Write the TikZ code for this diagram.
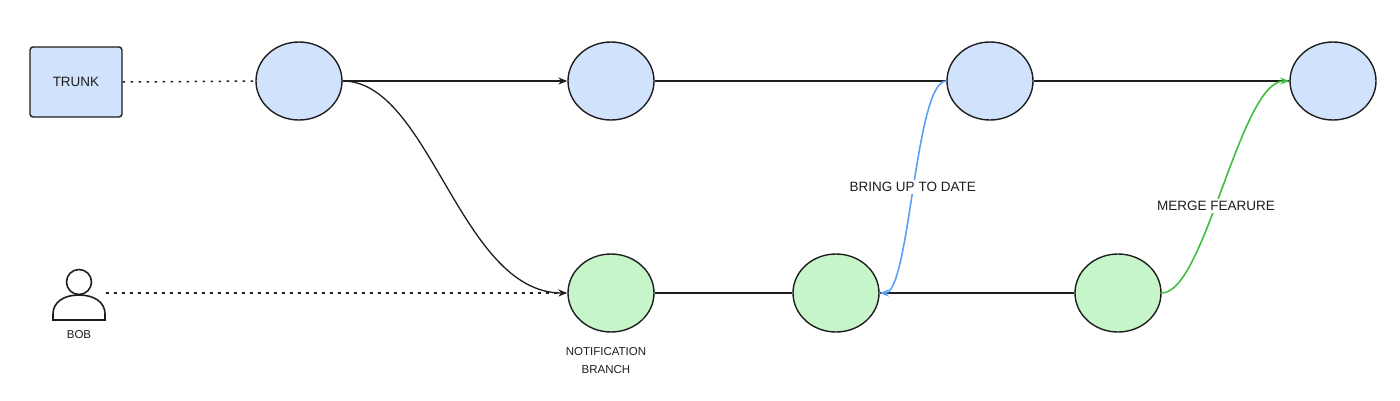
\documentclass[tikz,border=0pt]{standalone}
\usepackage{fontspec}
\setmainfont{Liberation Sans}
\usetikzlibrary{shapes.geometric,arrows.meta}
\definecolor{bluefill}{RGB}{208,226,252}
\definecolor{greenfill}{RGB}{197,245,200}
\definecolor{inkc}{RGB}{30,30,30}
\definecolor{bluearrow}{RGB}{90,160,245}
\definecolor{greenarrow}{RGB}{64,190,64}
\begin{document}
\begin{tikzpicture}[x=1pt,y=-1pt,
  commit/.style={ellipse,draw=inkc,line width=1.4pt,minimum width=86pt,minimum height=78pt,inner sep=0pt},
  trunkc/.style={commit,fill=bluefill},
  branchc/.style={commit,fill=greenfill},
  lbl/.style={font=\fontsize{13.5}{15}\selectfont,text=inkc,inner sep=2pt},
  small/.style={font=\fontsize{11.5}{18}\selectfont},
  conn/.style={draw=inkc,line width=1.3pt},
  dots/.style={draw=inkc,line width=1.5pt,dash pattern=on 2.5pt off 5.5pt},
  tip/.style={-{Stealth[length=9pt,width=7pt]}}
]
\useasboundingbox (0,0) rectangle (1400,400);
% trunk box
\node[draw=inkc,fill=bluefill,line width=1.4pt,rounded corners=3pt,minimum width=92pt,minimum height=70pt,lbl] (trunk) at (76,82) {TRUNK};
% commits
\node[trunkc] (t1) at (299,81) {};
\node[trunkc] (t2) at (611,81) {};
\node[trunkc] (t3) at (990,81) {};
\node[trunkc] (t4) at (1333,81) {};
\node[branchc] (b1) at (611,293) {};
\node[branchc] (b2) at (836,293) {};
\node[branchc] (b3) at (1118,293) {};
% bob icon
\draw[inkc,line width=1.6pt,fill=white] (53,320) -- (53,314) .. controls (53,302) and (64,295) .. (79,295) .. controls (94,295) and (105,302) .. (105,314) -- (105,320) -- cycle;
\draw[inkc,line width=1.6pt,fill=white] (79,282) circle (12.5);
\coordinate (bobR) at (106,293);
\node[lbl,small] (bob) at (79,335) {BOB};
\node[lbl,small,align=center] (blabel) at (606,361) {NOTIFICATION\\BRANCH};
% connectors
\draw[dots] (trunk.east) -- (t1.west);
\draw[dots] (bobR) -- (b1.west);
\draw[conn,tip] (t1.east) -- (t2.west);
\draw[conn,tip] (t1.east) .. controls (430,81) and (460,293) .. (b1.west);
\draw[conn] (t2.east) -- (t3.west);
\draw[conn] (t3.east) -- (t4.west);
\draw[conn] (b1.east) -- (b2.west);
\draw[conn] (b2.east) -- (b3.west);
\draw[draw=bluearrow,line width=1.6pt,tip] (t3.west) .. controls (915,81) and (910,293) .. (b2.east)
  node[pos=0.5,lbl,fill=white] (bl) {BRING UP TO DATE};
\draw[draw=greenarrow,line width=1.6pt,tip] (b3.east) .. controls (1205,293) and (1240,81) .. (t4.west)
  node[pos=0.44,lbl,fill=white] (ml) {MERGE FEARURE};
\end{tikzpicture}
\end{document}
